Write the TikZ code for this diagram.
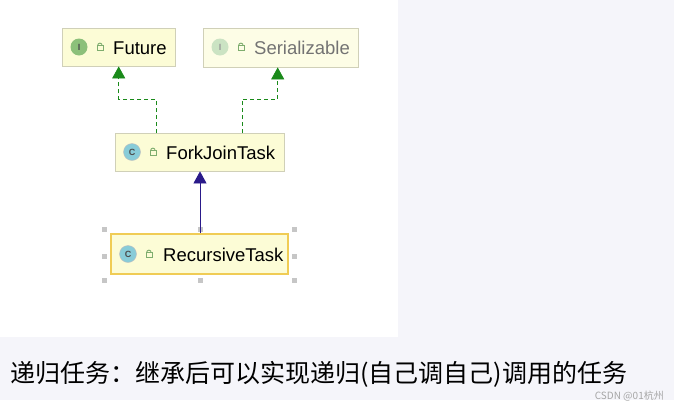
\documentclass[tikz,border=0pt]{standalone}
\usepackage{fontspec}
\setmainfont{Liberation Sans}
\newfontfamily\cjk{Noto Sans CJK SC}
\usetikzlibrary{arrows.meta}
\definecolor{boxfill}{HTML}{FCFCD6}
\definecolor{boxline}{HTML}{D0D0B8}
\definecolor{igreen}{HTML}{8CC07A}
\definecolor{cblue}{HTML}{88CCD8}
\definecolor{arrgreen}{HTML}{1A8A1A}
\definecolor{arrblue}{HTML}{2A1A8A}
\definecolor{bgray}{HTML}{F5F5FA}
\definecolor{selyel}{HTML}{F0CC55}
\tikzset{
 badge/.style={circle,minimum size=17pt,inner sep=0pt,font=\fontsize{9}{9}\selectfont\bfseries},
 lbl/.style={anchor=west,font=\fontsize{18.5}{20}\selectfont,inner xsep=0pt},
 impl/.style={draw=arrgreen,dashed,dash pattern=on 4pt off 3pt,thick,-{Triangle[length=12pt,width=13pt,fill=arrgreen]}},
 ext/.style={draw=arrblue,thick,-{Triangle[length=12pt,width=13pt,fill=arrblue]}},
 handle/.style={fill=gray!45,minimum size=5pt,inner sep=0pt}
}
\newcommand{\lockicon}{\tikz[baseline=-1pt]{\draw[igreen!90!black,line width=0.9pt] (0,0) rectangle (6pt,5pt); \draw[igreen!90!black,line width=0.9pt] (0.7pt,5pt) arc (180:0:2.2pt);}}
\begin{document}
\begin{tikzpicture}[x=1pt,y=-1pt]
\fill[bgray] (0,0) rectangle (674,405);
\fill[white] (0,0) rectangle (398,337);
\fill[white] (0,400) rectangle (674,405);
% boxes
\node[draw=boxline,fill=boxfill,minimum width=113pt,minimum height=38pt,anchor=north west] (fut) at (62,28) {};
\node[draw=boxline,fill=boxfill!60!white,minimum width=155pt,minimum height=39pt,anchor=north west] (ser) at (203,28) {};
\node[draw=boxline,fill=boxfill,minimum width=169pt,minimum height=38pt,anchor=north west] (fjt) at (115,133) {};
\node[draw=selyel,line width=1.6pt,fill=boxfill,minimum width=177pt,minimum height=40pt,anchor=north west] (rt) at (110,233) {};
% badges & labels
\node[badge,fill=igreen,text=black!70] (b1) at (79,47) {I};
\node (l1) at (100,47) {\lockicon};
\node[lbl] (t1) at (113,48) {Future};
\node[badge,fill=igreen!45!white,text=black!40] (b2) at (220,47) {I};
\node (l2) at (241,47) {\lockicon};
\node[lbl,text=black!55] (t2) at (254,48) {Serializable};
\node[badge,fill=cblue,draw=gray!50,text=black!70] (b3) at (132,152) {C};
\node (l3) at (153,152) {\lockicon};
\node[lbl] (t3) at (166,153) {ForkJoinTask};
\node[badge,fill=cblue,draw=gray!50,text=black!70] (b4) at (128,254) {C};
\node (l4) at (149,254) {\lockicon};
\node[lbl] (t4) at (163,255) {RecursiveTask};
% handles
\foreach \hx/\hy [count=\i] in {104/229,200/229,294/229,104/256,294/256,104/280,200/280,294/280}
  \node[handle] (h\i) at (\hx,\hy) {};
% connectors
\coordinate (c1) at (156,99);
\coordinate (c2) at (242,99);
\draw[impl] (fjt.north -| c1) -- (c1) -| (fut.south);
\draw[impl] (fjt.north -| c2) -- (c2) -| ([xshift=-3pt]ser.south);
\draw[ext] (rt.north -| h2) -- (fjt.south -| h2);
% caption
\node[anchor=west,font=\cjk\fontsize{25}{28}\selectfont,inner sep=0pt] (cap) at (10,374) {递归任务：继承后可以实现递归(自己调自己)调用的任务};
\node[anchor=east,font=\cjk\fontsize{10}{11}\selectfont,text=black!35,inner sep=0pt] (wm) at (664,396) {CSDN @01杭州};
\end{tikzpicture}
\end{document}
